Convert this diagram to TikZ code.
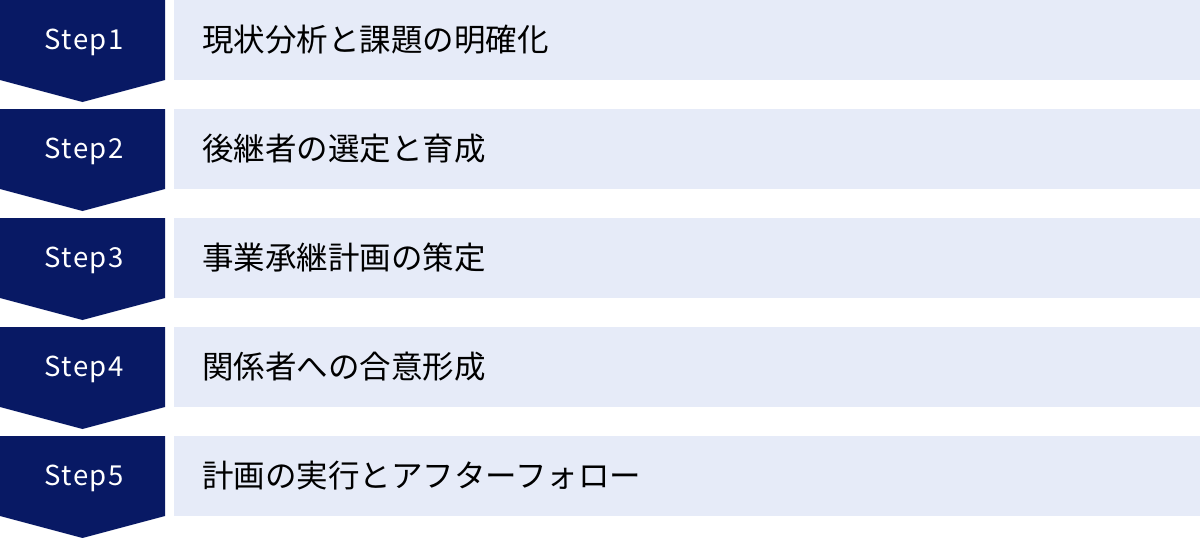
\documentclass[tikz,border=0pt]{standalone}
\usepackage{fontspec}
\setmainfont{Noto Sans CJK JP}
\newfontfamily\stepfont[LetterSpace=6]{Noto Sans CJK JP}
\definecolor{stepnavy}{RGB}{8,25,100}
\definecolor{tasklav}{RGB}{230,235,248}
\tikzset{
  stepmark/.style={fill=stepnavy},
  steplabel/.style={text=white, font=\stepfont\fontsize{27.5}{27.5}\selectfont, inner sep=0pt},
  taskbox/.style={fill=tasklav, anchor=west, minimum width=1026pt, minimum height=80pt,
    inner xsep=28pt, inner ysep=0pt, text width=970pt, align=left,
    font=\fontsize{31.5}{31.5}\selectfont}
}
\begin{document}
\begin{tikzpicture}[x=1pt,y=-1pt]
\useasboundingbox (0,0) rectangle (1200,538);
% step 1
\fill[stepmark] (0,0) -- (165,0) -- (165,80) -- (82.5,102) -- (0,80) -- cycle;
\node[steplabel] (step1) at (84,42) {Step1};
\node[taskbox] (task1) at (174,40) {現状分析と課題の明確化};
% step 2
\fill[stepmark] (0,109) -- (165,109) -- (165,189) -- (82.5,211) -- (0,189) -- cycle;
\node[steplabel] (step2) at (84,151) {Step2};
\node[taskbox] (task2) at (174,149) {後継者の選定と育成};
% step 3
\fill[stepmark] (0,218) -- (165,218) -- (165,298) -- (82.5,320) -- (0,298) -- cycle;
\node[steplabel] (step3) at (84,260) {Step3};
\node[taskbox] (task3) at (174,258) {事業承継計画の策定};
% step 4
\fill[stepmark] (0,327) -- (165,327) -- (165,407) -- (82.5,429) -- (0,407) -- cycle;
\node[steplabel] (step4) at (84,369) {Step4};
\node[taskbox] (task4) at (174,367) {関係者への合意形成};
% step 5
\fill[stepmark] (0,436) -- (165,436) -- (165,516) -- (82.5,538) -- (0,516) -- cycle;
\node[steplabel] (step5) at (84,478) {Step5};
\node[taskbox] (task5) at (174,476) {計画の実行とアフターフォロー};
\end{tikzpicture}
\end{document}
